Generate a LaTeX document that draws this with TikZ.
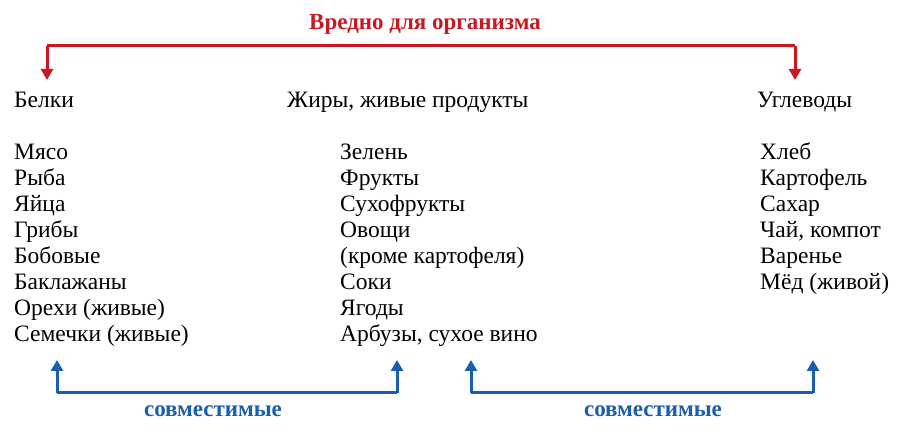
\documentclass[tikz,border=0pt]{standalone}
\usepackage{fontspec}
\setmainfont{Liberation Serif}
\usetikzlibrary{arrows.meta}
\definecolor{rd}{RGB}{200,25,35}
\definecolor{bl}{RGB}{25,95,175}
\begin{document}
\begin{tikzpicture}[x=1pt,y=-1pt,
  txt/.style={anchor=base west,inner sep=0pt,font=\fontsize{23.5}{25}\selectfont},
  lbl/.style={anchor=base,inner sep=0pt,font=\bfseries\fontsize{23}{25}\selectfont},
  brk/.style={line width=3pt,-{Triangle[length=11pt,width=12pt]}}]
\useasboundingbox (0,0) rectangle (900,435);
\fill[white] (0,0) rectangle (900,435);
\node[lbl,text=rd] (t) at (425,30) {Вредно для организма};
\coordinate (r1) at (47,46); \coordinate (r2) at (795,46);
\coordinate (ra) at (47,80); \coordinate (rb) at (795,80);
\draw[brk,rd] (r1) -- (ra);
\draw[brk,rd] (r2) -- (rb);
\draw[rd,line width=3pt] (r1) -- (r2);
\node[txt] (h1) at (14,108) {Белки};
\node[txt] (h2) at (287,108) {Жиры, живые продукты};
\node[txt] (h3) at (757,108) {Углеводы};
\foreach \t [count=\i] in {Мясо,Рыба,Яйца,Грибы,Бобовые,Баклажаны,Орехи (живые),Семечки (живые)}
  \node[txt] (a\i) at (14,134+26*\i) {\t};
\foreach \t [count=\i] in {Зелень,Фрукты,Сухофрукты,Овощи,(кроме картофеля),Соки,Ягоды,{Арбузы, сухое вино}}
  \node[txt] (b\i) at (340,134+26*\i) {\t};
\foreach \t [count=\i] in {Хлеб,Картофель,Сахар,{Чай, компот},Варенье,Мёд (живой)}
  \node[txt] (c\i) at (760,134+26*\i) {\t};
\coordinate (l1) at (57,393); \coordinate (l2) at (397,393);
\coordinate (la) at (57,360); \coordinate (lb) at (397,360);
\coordinate (m1) at (471,393); \coordinate (m2) at (813,393);
\coordinate (ma) at (471,360); \coordinate (mb) at (813,360);
\draw[bl,line width=3pt] (l1) -- (l2);
\draw[bl,line width=3pt] (m1) -- (m2);
\draw[brk,bl] (l1) -- (la); \draw[brk,bl] (l2) -- (lb);
\draw[brk,bl] (m1) -- (ma); \draw[brk,bl] (m2) -- (mb);
\node[lbl,text=bl] (s1) at (213,417) {совместимые};
\node[lbl,text=bl] (s2) at (653,417) {совместимые};
\end{tikzpicture}
\end{document}
